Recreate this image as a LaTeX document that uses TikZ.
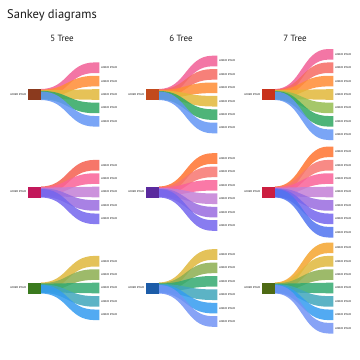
\documentclass[tikz,border=0pt]{standalone}
\usepackage{fontspec}
\setmainfont{PT Sans}
\definecolor{rpink}{HTML}{F25F96}
\definecolor{rcoral}{HTML}{F66A62}
\definecolor{rorange}{HTML}{FF8C34}
\definecolor{ryellow}{HTML}{E2B83A}
\definecolor{rlime}{HTML}{96BE50}
\definecolor{rgreen}{HTML}{30A862}
\definecolor{rblue}{HTML}{6396F5}
\definecolor{pcoral}{HTML}{F5604F}
\definecolor{porange}{HTML}{FF7430}
\definecolor{psalmon}{HTML}{F77670}
\definecolor{ppink}{HTML}{FA6298}
\definecolor{porchid}{HTML}{C480D6}
\definecolor{ppurple}{HTML}{996CE0}
\definecolor{pviolet}{HTML}{7466EE}
\definecolor{pblue}{HTML}{5074F0}
\definecolor{gorange}{HTML}{F5A52E}
\definecolor{ggold}{HTML}{E0B83C}
\definecolor{golive}{HTML}{8CAE50}
\definecolor{ggreen}{HTML}{33AA70}
\definecolor{gteal}{HTML}{40A6BC}
\definecolor{gsky}{HTML}{349CF0}
\definecolor{gperi}{HTML}{7293F5}
\definecolor{sA}{HTML}{8B3A1E}
\definecolor{sB}{HTML}{C24A1C}
\definecolor{sC}{HTML}{C8321C}
\definecolor{sD}{HTML}{C2185B}
\definecolor{sE}{HTML}{5A2A9E}
\definecolor{sF}{HTML}{CC1E40}
\definecolor{sG}{HTML}{3A7A1E}
\definecolor{sH}{HTML}{1C5CA8}
\definecolor{sI}{HTML}{4E6A14}
\tikzset{
  ribbon/.style={fill opacity=0.85},
  lbl/.style={font=\fontsize{2.6}{2.8}\selectfont, text=black, inner sep=0pt},
  srcbox/.style={inner sep=0pt, draw=none},
  ttl/.style={font=\fontsize{12.5}{14}\selectfont, text=black!90, anchor=west, inner sep=0pt},
  hdr/.style={font=\fontsize{9}{10}\selectfont, text=black!90, inner sep=0pt}
}
\newcommand\sankeyd[6]{%
  \pgfmathsetmacro\skxa{#1}%
  \pgfmathsetmacro\skxb{#1+13}%
  \pgfmathsetmacro\sktx{#1+71.5}%
  \pgfmathsetmacro\skxe{\sktx-5}%
  \pgfmathsetmacro\skL{(\skxe-\skxb)*0.5}%
  \pgfmathsetmacro\sktop{#2-(#3*13.4-2.8)/2}%
  \foreach \c [count=\i from 0] in {#4}{%
    \pgfmathsetmacro\ska{#2-5.5+\i*2.5/(#3-1)}%
    \pgfmathsetmacro\skb{\ska+8.5}%
    \pgfmathsetmacro\skta{\sktop+\i*13.4}%
    \pgfmathsetmacro\sktb{\skta+10.6}%
    \fill[ribbon,fill=\c] (\skxb,\ska) .. controls (\skxb+\skL,\ska) and (\skxe-\skL,\skta) .. (\skxe,\skta) -- (\sktx,\skta) -- (\sktx,\sktb) -- (\skxe,\sktb) .. controls (\skxe-\skL,\sktb) and (\skxb+\skL,\skb) .. (\skxb,\skb) -- cycle;
    \node[lbl,anchor=west] (#6t\i) at (\sktx+1.5,\skta+5.3) {LOREM IPSUM};
  }%
  \node[srcbox, fill=#5, minimum width=13pt, minimum height=11pt] (#6s) at (\skxa+6.5,#2) {};
  \node[lbl,anchor=east] (#6l) at (\skxa-1.5,#2) {LOREM IPSUM};
}
\begin{document}
\begin{tikzpicture}[x=1pt,y=-1pt]
\useasboundingbox[fill=white] (0,0) rectangle (360,360);
\node[ttl] (title) at (7,15) {Sankey diagrams};
\node[hdr] (h5) at (62,38) {5 Tree};
\node[hdr] (h6) at (181,38) {6 Tree};
\node[hdr] (h7) at (295,38) {7 Tree};
% row 1
\sankeyd{28}{94.5}{5}{rpink,rorange,ryellow,rgreen,rblue}{sA}{a}
\sankeyd{146}{94.5}{6}{rpink,rcoral,rorange,ryellow,rgreen,rblue}{sB}{b}
\sankeyd{262}{94.5}{7}{rpink,rcoral,rorange,ryellow,rlime,rgreen,rblue}{sC}{c}
% row 2
\sankeyd{28}{192}{5}{pcoral,ppink,porchid,ppurple,pviolet}{sD}{d}
\sankeyd{146}{192}{6}{porange,psalmon,ppink,porchid,ppurple,pviolet}{sE}{e}
\sankeyd{262}{192}{7}{porange,psalmon,ppink,porchid,ppurple,pviolet,pblue}{sF}{f}
% row 3
\sankeyd{28}{288}{5}{ggold,golive,ggreen,gteal,gsky}{sG}{g}
\sankeyd{146}{288}{6}{ggold,golive,ggreen,gteal,gsky,gperi}{sH}{h}
\sankeyd{262}{288}{7}{gorange,ggold,golive,ggreen,gteal,gsky,gperi}{sI}{i}
\end{tikzpicture}
\end{document}
